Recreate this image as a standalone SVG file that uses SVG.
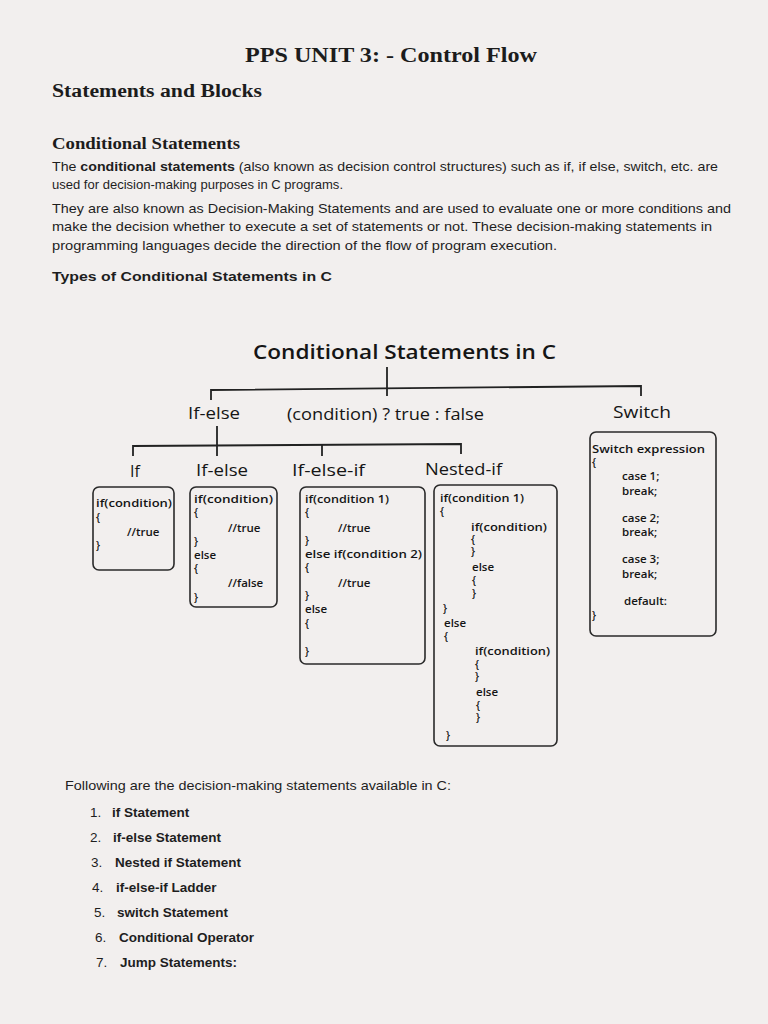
<svg xmlns="http://www.w3.org/2000/svg" width="768" height="1024" viewBox="0 0 768 1024">
<style>
.serif{font-family:"Liberation Serif","DejaVu Serif",serif;font-weight:bold;fill:#1c1c1c}
.body{font-family:"Liberation Sans","DejaVu Sans",sans-serif;font-size:13.5px;fill:#1e1e1e}
.b{font-weight:bold}
.dg{font-family:"Open Sans","Noto Sans",sans-serif;fill:#151515}
.lbl{font-size:16px}
.code{font-size:11.5px;font-weight:600}
.br{font-size:10.5px;font-weight:600}
.box{fill:none;stroke:#2a2a2a;stroke-width:1.6}
.conn{fill:none;stroke:#222;stroke-width:1.8}
</style>
<rect x="0" y="0" width="768" height="1024" fill="#f2efee"/>

<text class="serif" x="245" y="62" font-size="22" textLength="292" lengthAdjust="spacingAndGlyphs">PPS UNIT 3: - Control Flow</text>
<text class="serif" x="52" y="97" font-size="18" textLength="210" lengthAdjust="spacingAndGlyphs">Statements and Blocks</text>
<text class="serif" x="52" y="149" font-size="16" textLength="188" lengthAdjust="spacingAndGlyphs">Conditional Statements</text>

<text class="body" x="52" y="171" textLength="666" lengthAdjust="spacingAndGlyphs">The <tspan class="b">conditional statements</tspan> (also known as decision control structures) such as if, if else, switch, etc. are</text>
<text class="body" x="52" y="189" textLength="291" lengthAdjust="spacingAndGlyphs">used for decision-making purposes in C programs.</text>
<text class="body" x="52" y="213" textLength="679" lengthAdjust="spacingAndGlyphs">They are also known as Decision-Making Statements and are used to evaluate one or more conditions and</text>
<text class="body" x="52" y="231" textLength="660" lengthAdjust="spacingAndGlyphs">make the decision whether to execute a set of statements or not. These decision-making statements in</text>
<text class="body" x="52" y="250" textLength="505" lengthAdjust="spacingAndGlyphs">programming languages decide the direction of the flow of program execution.</text>
<text class="body b" x="52" y="281" font-size="16" textLength="280" lengthAdjust="spacingAndGlyphs">Types of Conditional Statements in C</text>

<text class="dg" x="253" y="359" font-size="19" font-weight="600" textLength="303" lengthAdjust="spacingAndGlyphs">Conditional Statements in C</text>

<g id="connectors">
<path class="conn" d="M387 367 V396"/>
<path class="conn" d="M211 400 V390 L641 386 V396"/>
<path class="conn" d="M217 426 V456"/>
<path class="conn" d="M133 456 V446 L461 444 V454"/>
<path class="conn" d="M322 445 V456"/>
</g>

<g id="n-ifelse-top"><text class="dg lbl" x="188" y="419" textLength="52" lengthAdjust="spacingAndGlyphs">If-else</text></g>
<g id="n-ternary"><text class="dg lbl" x="287" y="420" textLength="197" lengthAdjust="spacingAndGlyphs">(condition) ? true : false</text></g>
<g id="n-switch-label"><text class="dg lbl" x="613" y="418" textLength="58" lengthAdjust="spacingAndGlyphs">Switch</text></g>

<g id="n-if-label"><text class="dg lbl" x="130" y="477">If</text></g>
<g id="n-ifelse-label"><text class="dg lbl" x="196" y="476" textLength="52" lengthAdjust="spacingAndGlyphs">If-else</text></g>
<g id="n-elseif-label"><text class="dg lbl" x="292" y="476" textLength="73" lengthAdjust="spacingAndGlyphs">If-else-if</text></g>
<g id="n-nested-label"><text class="dg lbl" x="425" y="475" textLength="77" lengthAdjust="spacingAndGlyphs">Nested-if</text></g>

<g id="n-if-box">
<rect class="box" x="93" y="487" width="81" height="83" rx="6"/>
<text class="dg code" x="96" y="507" textLength="76" lengthAdjust="spacingAndGlyphs">if(condition)</text>
<text class="dg br" x="96" y="521">{</text>
<text class="dg code" x="127" y="536">//true</text>
<text class="dg br" x="96" y="549">}</text>
</g>

<g id="n-ifelse-box">
<rect class="box" x="190" y="487" width="87" height="120" rx="6"/>
<text class="dg code" x="194" y="503" textLength="79" lengthAdjust="spacingAndGlyphs">if(condition)</text>
<text class="dg br" x="194" y="516">{</text>
<text class="dg code" x="228" y="532">//true</text>
<text class="dg br" x="194" y="545">}</text>
<text class="dg code" x="194" y="559">else</text>
<text class="dg br" x="194" y="572">{</text>
<text class="dg code" x="228" y="587">//false</text>
<text class="dg br" x="194" y="601">}</text>
</g>

<g id="n-elseif-box">
<rect class="box" x="300" y="487" width="125" height="177" rx="6"/>
<text class="dg code" x="305" y="503" textLength="84" lengthAdjust="spacingAndGlyphs">if(condition 1)</text>
<text class="dg br" x="305" y="516">{</text>
<text class="dg code" x="338" y="532">//true</text>
<text class="dg br" x="305" y="544">}</text>
<text class="dg code" x="305" y="558" textLength="117" lengthAdjust="spacingAndGlyphs">else if(condition 2)</text>
<text class="dg br" x="305" y="571">{</text>
<text class="dg code" x="338" y="587">//true</text>
<text class="dg br" x="305" y="599">}</text>
<text class="dg code" x="305" y="613">else</text>
<text class="dg br" x="305" y="627">{</text>
<text class="dg br" x="305" y="655">}</text>
</g>

<g id="n-nested-box">
<rect class="box" x="434" y="485" width="123" height="261" rx="6"/>
<text class="dg code" x="440" y="502" textLength="84" lengthAdjust="spacingAndGlyphs">if(condition 1)</text>
<text class="dg br" x="440" y="515">{</text>
<text class="dg code" x="471" y="531" textLength="76" lengthAdjust="spacingAndGlyphs">if(condition)</text>
<text class="dg br" x="471" y="543">{</text>
<text class="dg br" x="471" y="555">}</text>
<text class="dg code" x="472" y="571">else</text>
<text class="dg br" x="472" y="584">{</text>
<text class="dg br" x="472" y="597">}</text>
<text class="dg br" x="443" y="612">}</text>
<text class="dg code" x="444" y="627">else</text>
<text class="dg br" x="444" y="640">{</text>
<text class="dg code" x="475" y="655" textLength="75" lengthAdjust="spacingAndGlyphs">if(condition)</text>
<text class="dg br" x="475" y="668">{</text>
<text class="dg br" x="475" y="680">}</text>
<text class="dg code" x="476" y="696">else</text>
<text class="dg br" x="476" y="709">{</text>
<text class="dg br" x="476" y="721">}</text>
<text class="dg br" x="446" y="739">}</text>
</g>

<g id="n-switch-box">
<rect class="box" x="590" y="432" width="126" height="204" rx="6"/>
<text class="dg code" x="592" y="453" textLength="113" lengthAdjust="spacingAndGlyphs">Switch expression</text>
<text class="dg br" x="592" y="466">{</text>
<text class="dg code" x="622" y="480">case 1;</text>
<text class="dg code" x="622" y="495">break;</text>
<text class="dg code" x="622" y="522">case 2;</text>
<text class="dg code" x="622" y="536">break;</text>
<text class="dg code" x="622" y="563">case 3;</text>
<text class="dg code" x="622" y="578">break;</text>
<text class="dg code" x="624" y="605">default:</text>
<text class="dg br" x="592" y="619">}</text>
</g>

<text class="body" x="65" y="790" textLength="386" lengthAdjust="spacingAndGlyphs">Following are the decision-making statements available in C:</text>
<g class="body">
<text x="90" y="817">1.</text><text class="b" x="112" y="817">if Statement</text>
<text x="90" y="842">2.</text><text class="b" x="113" y="842">if-else Statement</text>
<text x="91" y="867">3.</text><text class="b" x="115" y="867">Nested if Statement</text>
<text x="92" y="892">4.</text><text class="b" x="116" y="892">if-else-if Ladder</text>
<text x="94" y="917">5.</text><text class="b" x="117" y="917">switch Statement</text>
<text x="95" y="942">6.</text><text class="b" x="119" y="942">Conditional Operator</text>
<text x="96" y="967">7.</text><text class="b" x="120" y="967">Jump Statements:</text>
</g>
</svg>
